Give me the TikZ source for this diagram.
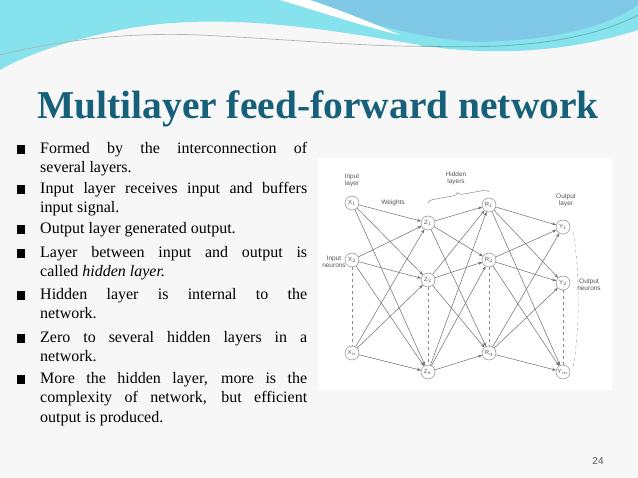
\documentclass[tikz,border=0pt]{standalone}
\usepackage{fontspec}
\setmainfont{Liberation Serif}
\setsansfont{Liberation Sans}
\usetikzlibrary{decorations.pathreplacing,arrows.meta}
\definecolor{titlec}{HTML}{17607A}
\definecolor{cyanA}{HTML}{86E3EE}
\definecolor{blueB}{HTML}{7FC8E6}
\definecolor{netc}{HTML}{555555}
\tikzset{
 neuron/.style={circle,draw=netc!80,fill=white,minimum size=14pt,inner sep=0pt,font=\sffamily\fontsize{6}{6}\selectfont,text=netc},
 conn/.style={draw=netc!85,line width=0.5pt,-{Stealth[length=4pt,width=3pt]}},
 lab/.style={font=\sffamily\fontsize{6.5}{7}\selectfont,text=netc,align=center},
 bul/.style={anchor=north west,text width=267pt,align=justify,font=\fontsize{16}{19.5}\selectfont,inner sep=0pt},
 bsq/.style={fill=black,minimum width=8pt,minimum height=9pt,inner sep=0pt}
}
\begin{document}
\hyphenpenalty=10000 \exhyphenpenalty=10000
\begin{tikzpicture}[x=1pt,y=-1pt]
\useasboundingbox (0,0) rectangle (638,478);
\fill[white!97!black] (0,0) rectangle (638,478);
% header waves
\fill[cyanA] (0,0) -- (638,0) -- (638,30) .. controls (560,55) and (480,55) .. (420,45) .. controls (330,30) and (220,10) .. (120,30) .. controls (60,42) and (20,58) .. (0,70) -- cycle;
\fill[blueB] (290,0) .. controls (360,20) and (420,40) .. (480,42) .. controls (560,40) and (610,25) .. (638,5) -- (638,0) -- cycle;
\fill[white] (280,0) .. controls (330,15) and (370,28) .. (400,35) .. controls (370,22) and (340,10) .. (310,0) -- cycle;
\draw[gray!60,line width=0.7pt] (0,55) .. controls (60,40) and (130,32) .. (200,35) .. controls (300,40) and (380,48) .. (440,46);
\draw[teal!60,line width=0.8pt] (420,46) .. controls (520,50) and (590,40) .. (638,15);
% title
\node[font=\bfseries\fontsize{39.5}{42}\selectfont,text=titlec] (title) at (318,109) {Multilayer feed-forward network};
% bullets
\foreach \y/\t in {
 142/{Formed by the interconnection of\linebreak several layers.},
 182/{Input layer receives input and buffers\linebreak input signal.},
 222/{Output layer generated output.},
 246/{Layer between input and output is\linebreak called \textit{hidden layer.}},
 288/{Hidden layer is internal to the\linebreak network.},
 331/{Zero to several hidden layers in a\linebreak network.},
 372/{More the hidden layer, more is the\linebreak complexity of network, but efficient\linebreak output is produced.}}{
 \node[bsq] at (21,\y+8) {};
 \node[bul] at (40,\y) {\t};
}
% network panel
\fill[white] (318,158) rectangle (612,390);
\node[neuron] (x1) at (352,203) {X$_1$};
\node[neuron] (x2) at (352,260) {X$_2$};
\node[neuron] (xn) at (352,353) {X$_n$};
\node[neuron] (z1) at (428,223) {Z$_1$};
\node[neuron] (z2) at (428,280) {Z$_2$};
\node[neuron] (zk) at (428,372) {Z$_k$};
\node[neuron] (r1) at (489,205) {R$_1$};
\node[neuron] (r2) at (489,260) {R$_2$};
\node[neuron] (rq) at (489,353) {R$_q$};
\node[neuron] (y1) at (563,227) {Y$_1$};
\node[neuron] (y2) at (563,283) {Y$_2$};
\node[neuron] (ym) at (563,372) {Y$_m$};
\foreach \a in {x1,x2,xn}{\foreach \b in {z1,z2,zk}{\draw[conn] (\a) -- (\b);}}
\foreach \a in {z1,z2,zk}{\foreach \b in {r1,r2,rq}{\draw[conn] (\a) -- (\b);}}
\foreach \a in {r1,r2,rq}{\foreach \b in {y1,y2,ym}{\draw[conn] (\a) -- (\b);}}
\foreach \a/\b in {x2/xn,z2/zk,r2/rq,y2/ym}{\draw[netc!70,dashed,line width=0.4pt] (\a) -- (\b);}
\node[lab] (il) at (352,180) {Input\\layer};
\node[lab] (w) at (393,203) {Weights};
\node[lab] (hl) at (456,178) {Hidden\\layers};
\draw[netc!80,decorate,decoration={brace,amplitude=5pt}] (428,203) -- (489,192);
\node[lab] (in) at (334,262) {Input\\neurons};
\node[lab] (ol) at (566,200) {Output\\layer};
\node[lab] (on) at (589,285) {Output\\neurons};
\draw[netc!60,dashed,line width=0.4pt] (573,232) .. controls (580,270) and (580,330) .. (573,368);
% page number
\node[font=\sffamily\fontsize{10}{10}\selectfont,text=gray!70!black] (pg) at (598,461) {24};
\end{tikzpicture}
\end{document}
